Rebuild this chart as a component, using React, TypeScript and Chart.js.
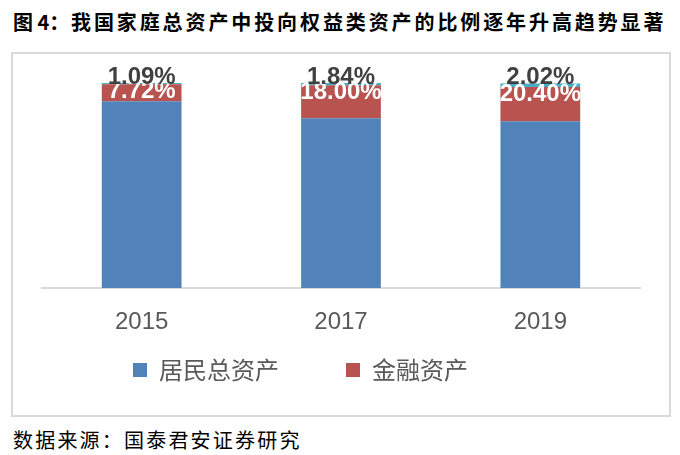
import React, { useEffect, useRef } from 'react';
import { Chart, registerables } from 'chart.js';

Chart.register(...registerables);

const years = ['2015', '2017', '2019'];
const householdTotal = [91.1, 82.8, 81.3];
const financialAssets = [8.3, 16.1, 16.7];
const equityAssets = [0.6, 1.1, 1.7];
const financialLabels = ['7.72%', '18.00%', '20.40%'];
const equityLabels = ['1.09%', '1.84%', '2.02%'];
const seriesNames = ['居民总资产', '金融资产', '权益类资产'];
const seriesColors = ['#5282BA', '#B9534F', '#4BACC6'];
const legendSeries = [0, 1];

const CJK = '"Noto Sans CJK SC", "Noto Sans", sans-serif';
const LATIN = '"Liberation Sans", Arial, sans-serif';

const valueLabelPlugin = {
  id: 'valueLabels',
  afterDatasetsDraw(chart: any) {
    const ctx = chart.ctx;
    ctx.save();
    ctx.font = `bold 24px ${LATIN}`;
    ctx.textAlign = 'center';
    ctx.textBaseline = 'middle';
    const m1 = chart.getDatasetMeta(1);
    m1.data.forEach((el: any, i: number) => {
      ctx.fillStyle = '#FFFFFF';
      ctx.fillText(financialLabels[i], el.x, el.y + 7);
    });
    const m2 = chart.getDatasetMeta(2);
    m2.data.forEach((el: any, i: number) => {
      ctx.fillStyle = '#404040';
      ctx.fillText(equityLabels[i], el.x, el.y - 6);
    });
    ctx.restore();
  },
};

const legendPlugin = {
  id: 'customLegend',
  afterDraw(chart: any) {
    const ctx = chart.ctx;
    const area = chart.chartArea;
    ctx.save();
    ctx.font = `24px ${CJK}`;
    ctx.textBaseline = 'middle';
    ctx.textAlign = 'left';
    let x = area.left + 91;
    const y = area.bottom + 82;
    legendSeries.forEach((idx) => {
      const ds = chart.data.datasets[idx];
      ctx.fillStyle = ds.backgroundColor;
      ctx.fillRect(x, y - 7, 14, 14);
      ctx.fillStyle = '#595959';
      ctx.fillText(ds.label, x + 26, y);
      x += 26 + ctx.measureText(ds.label).width + 67;
    });
    ctx.restore();
  },
};

function ChartBox() {
  const ref = useRef<HTMLCanvasElement | null>(null);
  useEffect(() => {
    if (!ref.current) return;
    const chart = new Chart(ref.current, {
      type: 'bar',
      data: {
        labels: years,
        datasets: [
          { label: seriesNames[0], data: householdTotal, backgroundColor: seriesColors[0], borderWidth: 0 },
          { label: seriesNames[1], data: financialAssets, backgroundColor: seriesColors[1], borderWidth: 0 },
          { label: seriesNames[2], data: equityAssets, backgroundColor: seriesColors[2], borderWidth: 0 },
        ],
      },
      options: {
        responsive: false,
        animation: false,
        maintainAspectRatio: false,
        datasets: { bar: { barPercentage: 0.4, categoryPercentage: 1.0 } },
        layout: { padding: { left: 29, right: 29, top: 29, bottom: 0 } },
        plugins: { legend: { display: false }, tooltip: { enabled: false }, title: { display: false } },
        scales: {
          x: {
            stacked: true,
            grid: { display: false, drawTicks: false },
            border: { display: true, color: '#D9D9D9', width: 2 },
            ticks: { color: '#595959', font: { family: LATIN, size: 24 }, padding: 20, maxRotation: 0 },
            afterFit: (scale: any) => { scale.height = 127; },
          },
          y: { stacked: true, display: false, min: 0, max: 100 },
        },
      },
      plugins: [valueLabelPlugin, legendPlugin],
    });
    return () => chart.destroy();
  }, []);
  return <canvas ref={ref} width={656} height={361} style={{ position: 'absolute', left: 0, top: 0, width: 656, height: 361 }} />;
}

export default function App() {
  return (
    <div style={{ position: 'fixed', left: 0, top: 0, width: 680, height: 455, background: '#fff', color: '#000' }}>
      <div style={{ position: 'absolute', left: 13, top: 11, fontFamily: CJK, fontWeight: 700, fontSize: 20, lineHeight: '22px', whiteSpace: 'pre' }}>图 4：</div>
      <div style={{ position: 'absolute', left: 71, top: 11, fontFamily: CJK, fontWeight: 700, fontSize: 20, lineHeight: '22px', letterSpacing: '2.9px', whiteSpace: 'nowrap' }}>我国家庭总资产中投向权益类资产的比例逐年升高趋势显著</div>
      <div style={{ position: 'absolute', left: 11, top: 52, width: 660, height: 365, border: '2px solid #D9D9D9', boxSizing: 'border-box' }}>
        <ChartBox />
      </div>
      <div style={{ position: 'absolute', left: 13, top: 429, fontFamily: CJK, fontSize: 20, lineHeight: '22px', letterSpacing: '2.2px', whiteSpace: 'nowrap' }}>数据来源：国泰君安证券研究</div>
    </div>
  );
}
